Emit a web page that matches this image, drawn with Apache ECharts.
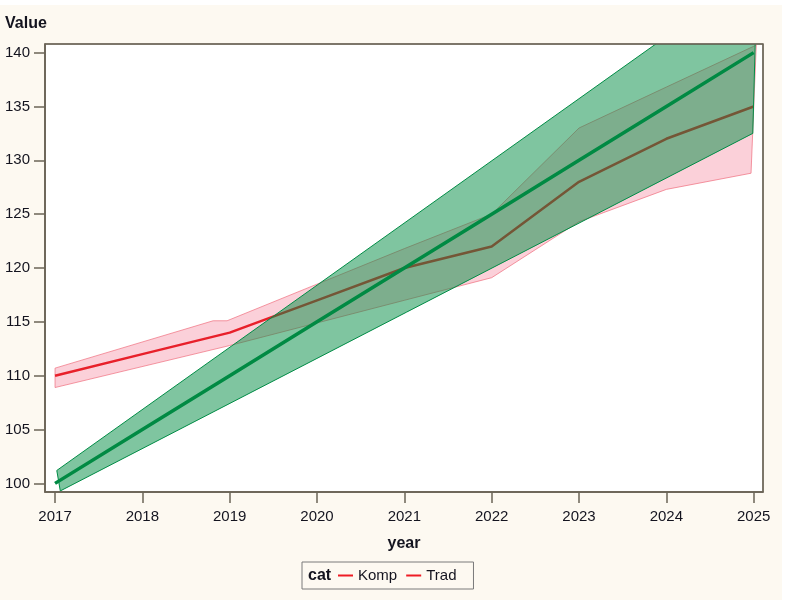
<!DOCTYPE html>
<html>
<head>
<meta charset="utf-8">
<script src="https://cdn.jsdelivr.net/npm/echarts@6/dist/echarts.min.js"></script>
<style>
html,body{margin:0;padding:0;background:#fff;}
#c{width:790px;height:600px;}
</style>
</head>
<body>
<div id="c"></div>
<script>
// ---- data ----
const years = [2017, 2018, 2019, 2020, 2021, 2022, 2023, 2024, 2025];
const kompValues = [100, 105, 110, 115, 120, 125, 130, 135, 140];
const tradValues = [110, 112, 114, 117, 120, 122, 128, 132, 135];

// Komp band (straight edges, read at their ends)
const kompUpperX = [2017.02, 2025.04];
const kompUpperY = [101.2, 147.5];
const kompLowerX = [2017.06, 2024.99];
const kompLowerY = [99.3, 132.5];

// Trad band
const tradUpperX = [2017, 2018.81, 2018.97, 2020, 2021, 2022, 2023, 2024, 2025.03];
const tradUpperY = [110.7, 115.1, 115.1, 118.5, 121.8, 125.0, 133.0, 136.8, 140.7];
const tradLowerX = [2017, 2019, 2020, 2021, 2022, 2023, 2024, 2024.97];
const tradLowerY = [108.9, 112.8, 114.9, 117.0, 119.1, 124.3, 127.3, 128.8];

const xTicks = [2017, 2018, 2019, 2020, 2021, 2022, 2023, 2024, 2025];
const yTicks = [100, 105, 110, 115, 120, 125, 130, 135, 140];
const legendNames = ['Komp', 'Trad'];

// ---- styles ----
const FONT = '"Liberation Sans", Arial, sans-serif';
const TXT = '#14141f';
const FRAME = '#6b6457';
const GRID = {left: 45, top: 44, width: 718, height: 448};

function band(name, ux, uy, lx, ly, fill, stroke, z) {
  const pts = ux.map((x, i) => [x, uy[i]])
    .concat(lx.map((x, i) => [x, ly[i]]).reverse());
  return {
    type: 'custom', name: name, z: z, clip: true, silent: true,
    data: pts, encode: {x: 0, y: 1},
    renderItem: function (params, api) {
      if (params.dataIndex !== 0) return;
      const poly = pts.map(p => api.coord(p));
      return {type: 'polygon', shape: {points: poly},
        style: {fill: fill, stroke: stroke, lineWidth: 1}};
    }
  };
}

const chart = echarts.init(document.getElementById('c'), null, {renderer: 'canvas'});
chart.setOption({
  backgroundColor: '#ffffff',
  animation: false,
  textStyle: {fontFamily: FONT},
  graphic: [
    {type: 'rect', z: -10, shape: {x: 0, y: 5, width: 782, height: 595},
      style: {fill: '#fdf9f1'}},
    {type: 'rect', z: 100, shape: {x: GRID.left, y: GRID.top, width: GRID.width, height: GRID.height},
      style: {fill: null, stroke: FRAME, lineWidth: 1.5}},
    {type: 'text', left: 5, top: 16, z: 100,
      style: {text: 'Value', font: 'bold 16px ' + FONT, fill: TXT}},
    {type: 'text', left: 308, top: 568, z: 100,
      style: {text: 'cat', font: 'bold 16px ' + FONT, fill: TXT}}
  ],
  grid: {left: GRID.left, top: GRID.top, width: GRID.width, height: GRID.height,
    show: true, backgroundColor: '#ffffff', borderColor: FRAME, borderWidth: 1},
  legend: {
    left: 302, top: 562,
    data: legendNames.map(n => ({name: n, itemStyle: {color: '#ee1c25'}})),
    icon: 'rect', itemWidth: 15, itemHeight: 2, itemGap: 9,
    padding: [6, 17, 6, 36],
    borderColor: '#7a7a7a', borderWidth: 1, backgroundColor: '#fdf9f1',
    textStyle: {fontFamily: FONT, fontSize: 15, color: TXT, padding: [0, 0, 0, 0]}
  },
  xAxis: {
    type: 'value', min: 2016.885, max: 2025.107,
    name: 'year', nameLocation: 'middle', nameGap: 44,
    nameTextStyle: {fontFamily: FONT, fontSize: 16, fontWeight: 'bold', color: TXT},
    axisLine: {show: true, lineStyle: {color: FRAME, width: 1.5}},
    axisTick: {show: true, length: 11, customValues: xTicks, lineStyle: {color: FRAME, width: 1.5}},
    axisLabel: {customValues: xTicks, margin: 17, fontSize: 15, color: TXT, fontFamily: FONT,
      formatter: v => String(v)},
    splitLine: {show: false}
  },
  yAxis: {
    type: 'value', min: 99.2, max: 140.8,
    axisLine: {show: true, lineStyle: {color: FRAME, width: 1.5}},
    axisTick: {show: true, length: 11, customValues: yTicks, lineStyle: {color: FRAME, width: 1.5}},
    axisLabel: {customValues: yTicks, margin: 15, fontSize: 15, color: TXT, fontFamily: FONT,
      formatter: v => String(v)},
    splitLine: {show: false}
  },
  series: [
    band('Trad band', tradUpperX, tradUpperY, tradLowerX, tradLowerY,
      'rgba(235,40,80,0.22)', 'rgba(240,110,125,0.7)', 1),
    {
      type: 'line', name: 'Trad', z: 2, clip: true,
      data: years.map((y, i) => [y, tradValues[i]]),
      showSymbol: false, symbol: 'none',
      lineStyle: {color: '#e8202a', width: 2.5},
      itemStyle: {color: '#e8202a'}
    },
    band('Komp band', kompUpperX, kompUpperY, kompLowerX, kompLowerY,
      'rgba(0,140,66,0.5)', '#008c46', 3),
    {
      type: 'line', name: 'Komp', z: 4, clip: true,
      data: years.map((y, i) => [y, kompValues[i]]),
      showSymbol: false, symbol: 'none',
      lineStyle: {color: '#008a43', width: 3.5},
      itemStyle: {color: '#008a43'}
    }
  ]
});
</script>
</body>
</html>
